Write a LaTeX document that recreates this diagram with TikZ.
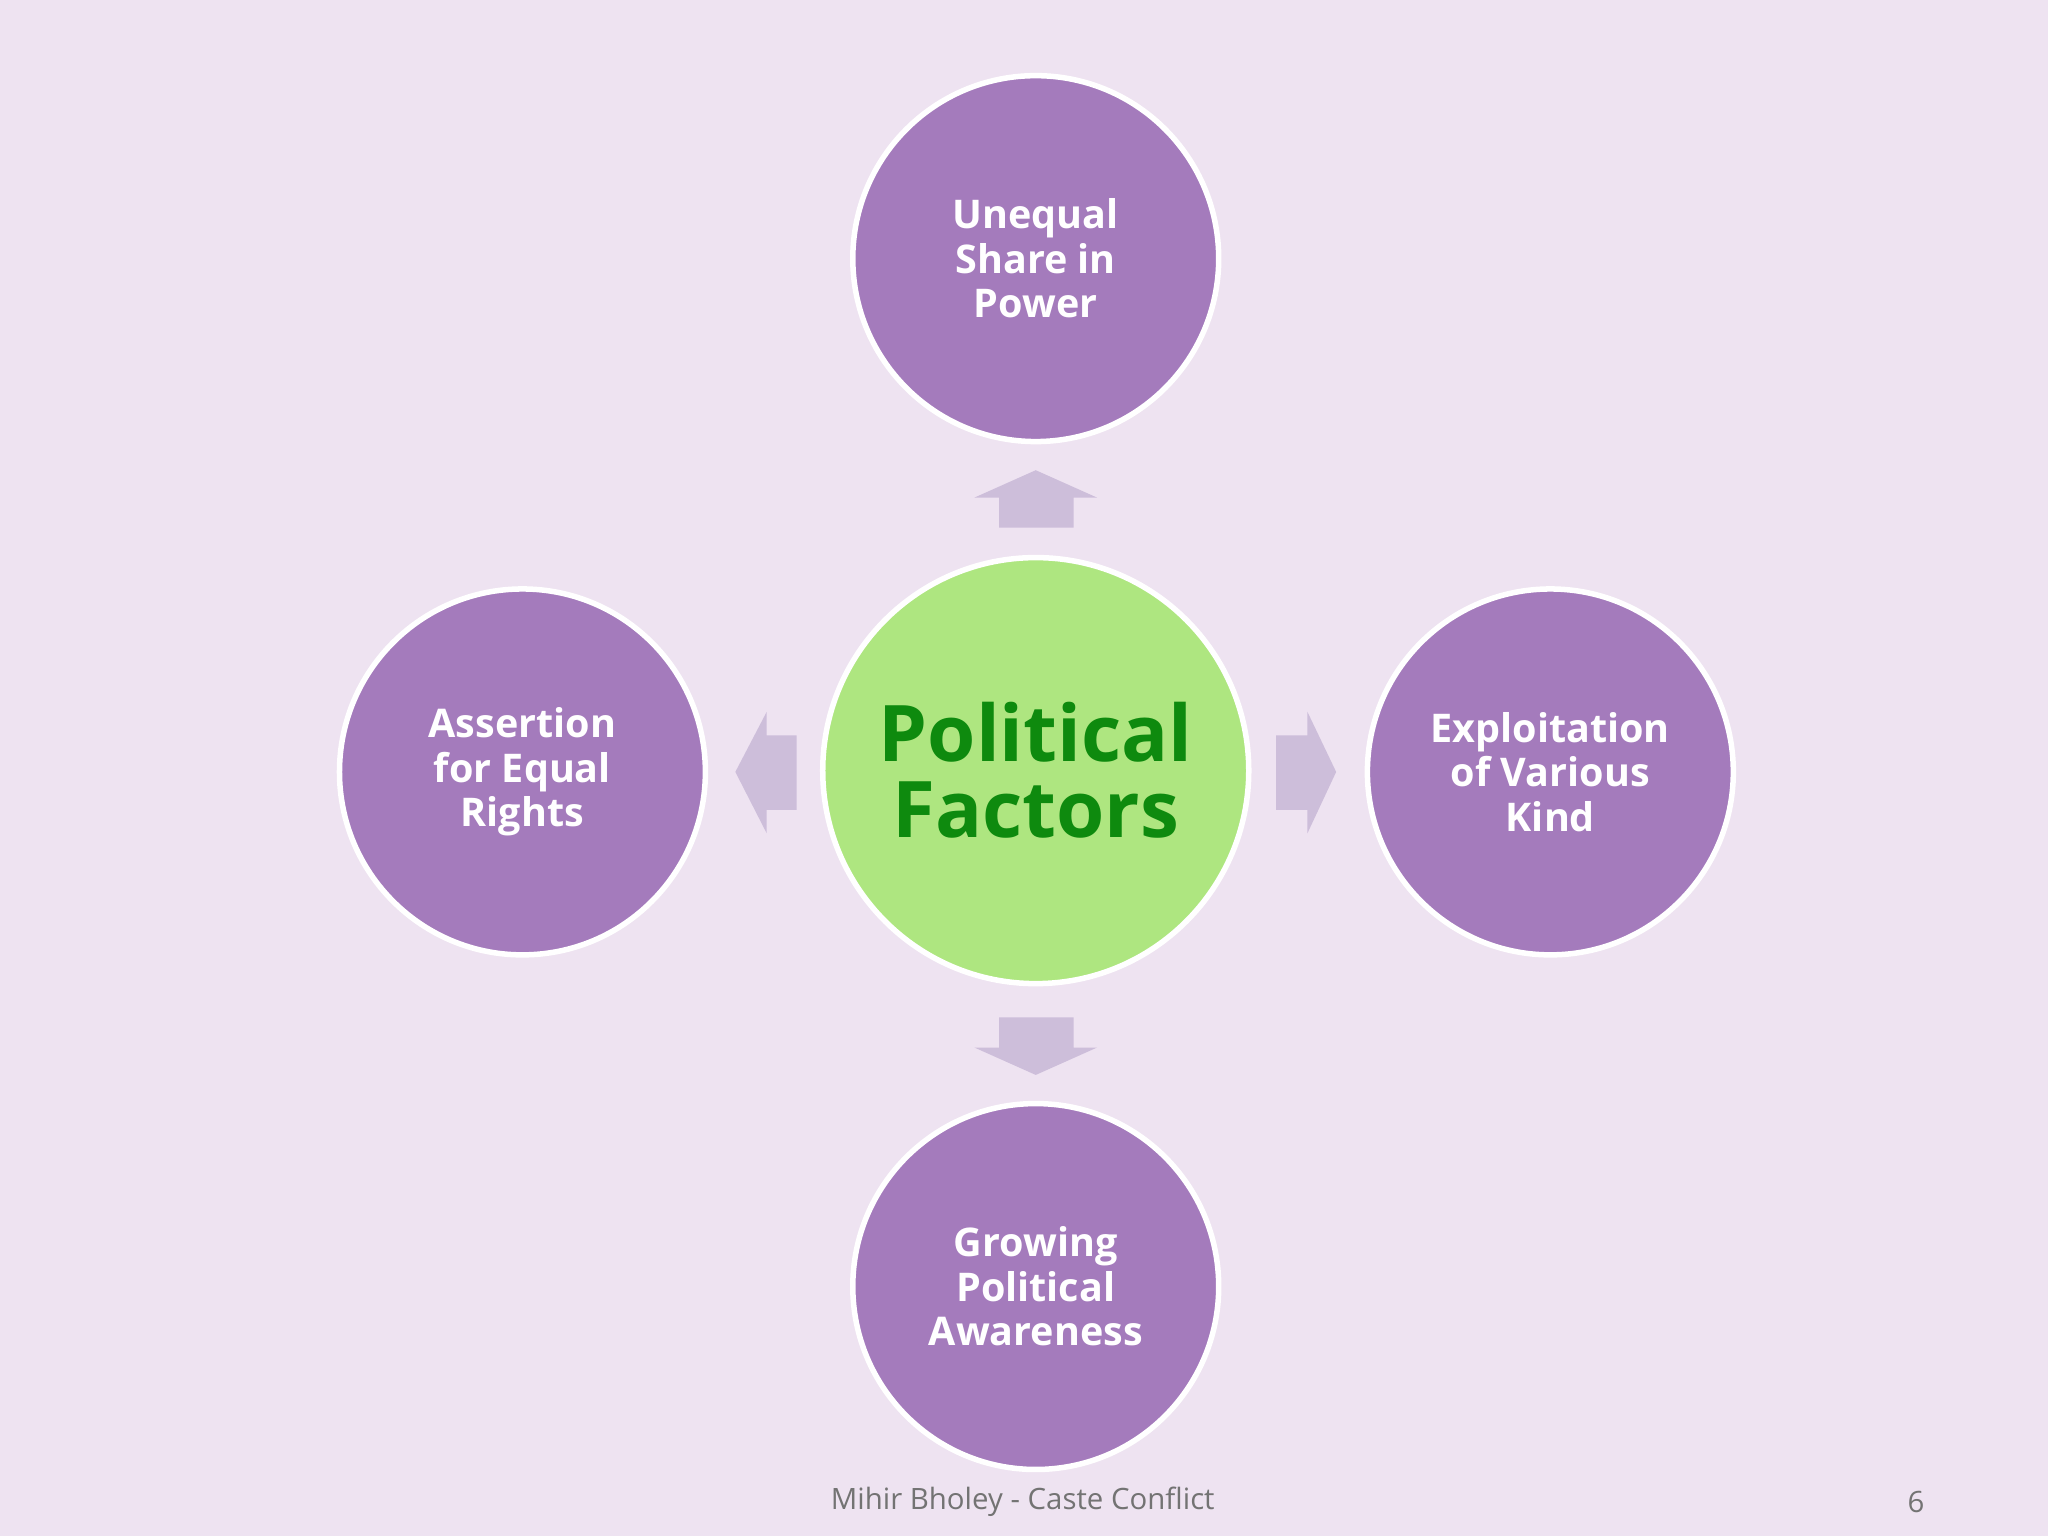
\documentclass[tikz,border=0pt]{standalone}
\usepackage{fontspec}
\setmainfont{Open Sans}
\definecolor{bg}{HTML}{EEE3F1}
\definecolor{purp}{HTML}{A47BBC}
\definecolor{lgreen}{HTML}{AEE680}
\definecolor{dgreen}{HTML}{0E8A0E}
\definecolor{arr}{HTML}{CDBEDA}
\begin{document}
\begin{tikzpicture}[x=0.01cm,y=-0.01cm,
  sat/.style={circle,fill=purp,draw=white,line width=1.2pt,minimum size=2.8cm,inner sep=0pt,align=center,text=white,font=\fontsize{8.6}{9.7}\selectfont\bfseries},
  arrowshape/.style={fill=arr,draw=none}]
\fill[bg] (0,0) rectangle (1568,1176);
\useasboundingbox (0,0) rectangle (1568,1176);
\node[circle,fill=lgreen,draw=white,line width=1.2pt,minimum size=3.26cm,inner sep=0pt,align=center,text=dgreen,font=\fontsize{17}{16.5}\selectfont\bfseries] (c) at (793,590) {Political\\Factors};
\node[sat] (t) at (793,198) {Unequal\\Share in\\Power};
\node[sat] (l) at (400,591) {Assertion\\for Equal\\Rights};
\node[sat] (r) at (1187,591) {Exploitation\\of Various\\Kind};
\node[sat] (b) at (793,985) {Growing\\Political\\Awareness};
\fill[arrowshape] (765,404) -- (765,381) -- (746,381) -- (793,360) -- (840,381) -- (822,381) -- (822,404) -- cycle;
\fill[arrowshape] (765,779) -- (765,802) -- (746,802) -- (793,823) -- (840,802) -- (822,802) -- (822,779) -- cycle;
\fill[arrowshape] (977,563) -- (1001,563) -- (1001,545) -- (1023,591) -- (1001,638) -- (1001,620) -- (977,620) -- cycle;
\fill[arrowshape] (610,563) -- (587,563) -- (587,545) -- (563,591) -- (587,638) -- (587,620) -- (610,620) -- cycle;
\node[text=gray!90!black,font=\fontsize{6.4}{7}\selectfont] (f) at (783,1150) {Mihir Bholey - Caste Conflict};
\node[text=gray!90!black,font=\fontsize{6.4}{7}\selectfont] (n) at (1467,1150) {6};
\end{tikzpicture}
\end{document}
